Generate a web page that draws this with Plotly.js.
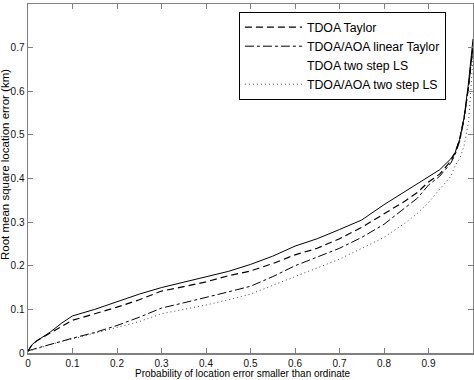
<!DOCTYPE html>
<html>
<head>
<meta charset="utf-8">
<script src="https://cdn.plot.ly/plotly-3.0.1.min.js"></script>
<style>html,body{margin:0;padding:0;background:#fff}#chart{width:474px;height:380px}</style>
</head>
<body>
<div id="chart"></div>
<script>
var prob = [0,0.005,0.01,0.02,0.03,0.05,0.075,0.1,0.15,0.2,0.25,0.3,0.35,0.4,0.45,0.5,0.55,0.6,0.65,0.7,0.75,0.8,0.85,0.875,0.9,0.925,0.95,0.96,0.97,0.98,0.99,0.995,1.0];
var tdoaTaylor = [0.005,0.012,0.02,0.028,0.034,0.046,0.06,0.075,0.09,0.105,0.122,0.142,0.152,0.163,0.177,0.188,0.205,0.225,0.24,0.262,0.288,0.318,0.35,0.368,0.392,0.41,0.44,0.46,0.49,0.54,0.61,0.66,0.70];
var tdoaAoaLinTaylor = [0.005,0.006,0.008,0.011,0.014,0.02,0.027,0.034,0.047,0.063,0.082,0.103,0.115,0.127,0.14,0.153,0.175,0.2,0.22,0.24,0.265,0.295,0.335,0.355,0.385,0.405,0.435,0.455,0.485,0.535,0.61,0.66,0.70];
var tdoaTwoStep = [0.005,0.012,0.02,0.028,0.034,0.048,0.068,0.085,0.1,0.118,0.135,0.15,0.162,0.174,0.187,0.203,0.222,0.245,0.262,0.283,0.305,0.34,0.372,0.388,0.405,0.42,0.445,0.46,0.49,0.54,0.62,0.68,0.72];
var tdoaAoaTwoStep = [0.003,0.005,0.007,0.01,0.013,0.019,0.026,0.032,0.045,0.058,0.072,0.09,0.1,0.11,0.122,0.135,0.155,0.175,0.195,0.215,0.24,0.265,0.3,0.32,0.345,0.375,0.405,0.43,0.445,0.475,0.53,0.6,0.68];
var names = ['TDOA Taylor','TDOA/AOA linear Taylor','TDOA two step LS','TDOA/AOA two step LS'];
var xTicks = [0,0.1,0.2,0.3,0.4,0.5,0.6,0.7,0.8,0.9,1];
var xTickText = ['0','0.1','0.2','0.3','0.4','0.5','0.6','0.7','0.8','0.9','1'];
var yTicks = [0,0.1,0.2,0.3,0.4,0.5,0.6,0.7,0.8];
var yTickText = ['0','0.1','0.2','0.3','0.4','0.5','0.6','0.7','0.8'];

var traces = [
  {x: prob, y: tdoaTaylor, name: names[0], mode: 'lines', line: {color: '#000', width: 1.2, dash: '7px,4px'}},
  {x: prob, y: tdoaAoaLinTaylor, name: names[1], mode: 'lines', line: {color: '#000', width: 1, dash: 'dashdot'}},
  {x: [null], y: [null], name: names[2], mode: 'lines', line: {color: 'rgba(0,0,0,0)', width: 1}, hoverinfo: 'skip'},
  {x: prob, y: tdoaAoaTwoStep, name: names[3], mode: 'lines', line: {color: '#444', width: 1, dash: '1px,3px'}},
  {x: prob, y: tdoaTwoStep, name: names[2], mode: 'lines', showlegend: false, line: {color: '#000', width: 1}}
];

var axisCommon = {
  showline: true, linecolor: '#808080', linewidth: 1.5, mirror: 'ticks',
  ticks: 'inside', ticklen: 5, tickcolor: '#808080', tickwidth: 1,
  showgrid: false, zeroline: false,
  tickfont: {family: 'Liberation Sans, Arial, sans-serif', size: 10, color: '#111'}
};

var layout = {
  width: 474, height: 380,
  margin: {l: 28, r: 1, t: 4, b: 27, pad: 0},
  paper_bgcolor: '#fff', plot_bgcolor: '#fff',
  showlegend: true,
  font: {family: 'Liberation Sans, Arial, sans-serif', color: '#000'},
  xaxis: Object.assign({}, axisCommon, {range: [0, 1], tickvals: xTicks, ticktext: xTickText}),
  yaxis: Object.assign({}, axisCommon, {range: [0, 0.8], tickvals: yTicks, ticktext: yTickText}),
  legend: {
    x: 0.474, y: 0.978, xanchor: 'left', yanchor: 'top',
    bordercolor: '#000', borderwidth: 1, bgcolor: '#fff',
    itemwidth: 57, tracegroupgap: 0, entrywidth: 218,
    font: {family: 'Liberation Sans, Arial, sans-serif', size: 12.3, color: '#000'}
  },
  annotations: [
    {text: 'Probability of location error smaller than ordinate', xref: 'paper', yref: 'paper',
     x: (243 - 28) / 445, y: -(373 - 353) / 349, xanchor: 'center', yanchor: 'middle', showarrow: false,
     font: {family: 'Liberation Sans, Arial, sans-serif', size: 10, color: '#000'}},
    {text: 'Root mean square location error (km)', xref: 'paper', yref: 'paper', textangle: -90,
     x: -(28 - 5) / 445, y: (353 - 165) / 349, xanchor: 'center', yanchor: 'middle', showarrow: false,
     font: {family: 'Liberation Sans, Arial, sans-serif', size: 11.5, color: '#000'}}
  ]
};

Plotly.newPlot('chart', traces, layout, {displayModeBar: false, staticPlot: true});
</script>
</body>
</html>
